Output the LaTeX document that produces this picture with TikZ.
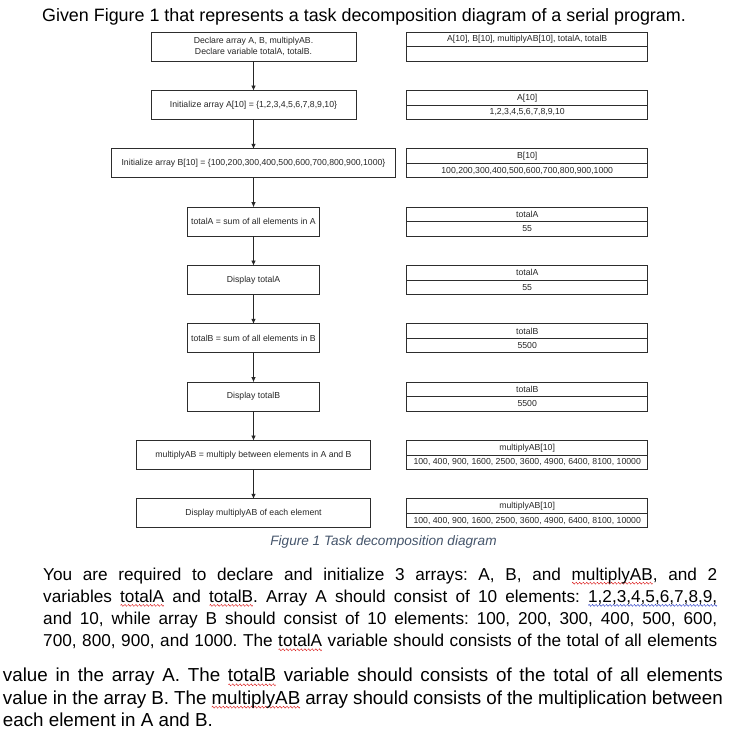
\documentclass[tikz,border=0pt]{standalone}
\usepackage{fontspec}
\setmainfont{Liberation Sans}
\usepackage{tikz}
\usetikzlibrary{positioning,arrows.meta}
\definecolor{capblue}{RGB}{68,84,106}
\definecolor{boxline}{RGB}{45,45,45}
\definecolor{wavered}{RGB}{220,30,30}
\definecolor{waveblue}{RGB}{40,60,200}
\frenchspacing

% spell-check squiggles under some words
\newsavebox\sqbox
\newcommand\wavebit[1]{\tikz[x=1pt, y=1pt, baseline=0pt]
    \draw[#1, line width=0.45pt] (0,0) -- (0.75,1) -- (2.25,-1) -- (3,0);}
\newcommand\squig[2]{\sbox\sqbox{#2}%
    \rlap{\raisebox{-3pt}{\hbox to \wd\sqbox{\xleaders\hbox{\wavebit{#1}}\hfill}}}%
    \usebox\sqbox}
\newcommand\redsq[1]{\squig{wavered}{#1}}
\newcommand\bluesq[1]{\squig{waveblue}{#1}}

\begin{document}
\begin{tikzpicture}[x=1pt, y=-1pt,
        proc/.style={rectangle, draw=boxline, line width=0.8pt,
                     minimum height=29pt, inner sep=0pt, outer sep=0pt,
                     align=center, text=black!85,
                     font=\fontsize{8.7}{11}\selectfont},
        cell/.style={rectangle, draw=boxline, line width=0.8pt,
                     minimum width=241pt, minimum height=14.5pt,
                     inner sep=0pt, outer sep=0pt, text=black!85,
                     font=\fontsize{8.7}{11}\selectfont},
        arrow/.style={-{Latex[length=5pt, width=4.5pt]}, line width=0.7pt,
                      draw=black!85},
        para/.style={anchor=north west, inner sep=0pt, align=justify},
        node distance=29.33pt]

        \useasboundingbox (0,0) rectangle (739,744);
        \coordinate (rcol) at (527.2,0);

        % question heading
        \node[font=\fontsize{17.9}{20}\selectfont] (title) at (364,17)
            {Given Figure 1 that represents a task decomposition diagram of a serial program.};

        % serial steps (left column)
        \node[proc, minimum width=205pt] (decl) at (253.5,46.7)
            {Declare array A, B, multiplyAB.\\Declare variable totalA, totalB.};
        \node[proc, minimum width=205pt, below=of decl] (initA)
            {Initialize array A[10] = \{1,2,3,4,5,6,7,8,9,10\}};
        \node[proc, minimum width=284pt, below=of initA] (initB)
            {Initialize array B[10] = \{100,200,300,400,500,600,700,800,900,1000\}};
        \node[proc, minimum width=132pt, below=of initB] (sumA)
            {totalA = sum of all elements in A};
        \node[proc, minimum width=132pt, below=of sumA] (showA)
            {Display totalA};
        \node[proc, minimum width=132pt, below=of showA] (sumB)
            {totalB = sum of all elements in B};
        \node[proc, minimum width=132pt, below=of sumB] (showB)
            {Display totalB};
        \node[proc, minimum width=234pt, below=of showB] (mult)
            {multiplyAB = multiply between elements in A and B};
        \node[proc, minimum width=234pt, below=of mult] (showM)
            {Display multiplyAB of each element};

        % arrows between steps
        \draw[arrow] (decl.south) -- (initA.north);
        \draw[arrow] (initA.south) -- (initB.north);
        \draw[arrow] (initB.south) -- (sumA.north);
        \draw[arrow] (sumA.south) -- (showA.north);
        \draw[arrow] (showA.south) -- (sumB.north);
        \draw[arrow] (sumB.south) -- (showB.north);
        \draw[arrow] (showB.south) -- (mult.north);
        \draw[arrow] (mult.south) -- (showM.north);

        % data tables (right column)
        \node[cell, anchor=north] (declH) at (decl.north -| rcol)
            {A[10], B[10], multiplyAB[10], totalA, totalB};
        \node[cell, below=0pt of declH] (declV) {};

        \node[cell, anchor=north] (initAH) at (initA.north -| rcol) {A[10]};
        \node[cell, below=0pt of initAH] (initAV) {1,2,3,4,5,6,7,8,9,10};

        \node[cell, anchor=north] (initBH) at (initB.north -| rcol) {B[10]};
        \node[cell, below=0pt of initBH] (initBV)
            {100,200,300,400,500,600,700,800,900,1000};

        \node[cell, anchor=north] (sumAH) at (sumA.north -| rcol) {totalA};
        \node[cell, below=0pt of sumAH] (sumAV) {55};

        \node[cell, anchor=north] (showAH) at (showA.north -| rcol) {totalA};
        \node[cell, below=0pt of showAH] (showAV) {55};

        \node[cell, anchor=north] (sumBH) at (sumB.north -| rcol) {totalB};
        \node[cell, below=0pt of sumBH] (sumBV) {5500};

        \node[cell, anchor=north] (showBH) at (showB.north -| rcol) {totalB};
        \node[cell, below=0pt of showBH] (showBV) {5500};

        \node[cell, anchor=north] (multH) at (mult.north -| rcol) {multiplyAB[10]};
        \node[cell, below=0pt of multH] (multV)
            {100, 400, 900, 1600, 2500, 3600, 4900, 6400, 8100, 10000};

        \node[cell, anchor=north] (showMH) at (showM.north -| rcol) {multiplyAB[10]};
        \node[cell, below=0pt of showMH] (showMV)
            {100, 400, 900, 1600, 2500, 3600, 4900, 6400, 8100, 10000};

        % caption
        \node[font=\fontsize{13.6}{15}\selectfont\itshape, text=capblue] (cap)
            at (383.5,542) {Figure 1 Task decomposition diagram};

        % question text
        \node[para, text width=674pt, font=\fontsize{17.2}{22.2}\selectfont]
            (textA) at (43,567.5)
            {You are required to declare and initialize 3 arrays: A, B, and
             \redsq{multiplyAB}, and 2\linebreak
             variables \redsq{totalA} and \redsq{totalB}. Array A should consist of
             10 elements: \bluesq{1,2,3,4,5,6,7,8,9,}\linebreak
             and 10, while array B should consist of 10 elements: 100, 200, 300,
             400, 500, 600,\linebreak
             700, 800, 900, and 1000. The \redsq{totalA} variable should consists
             of the total of all elements\linebreak};
        \node[para, text width=720pt, font=\fontsize{18.8}{22.3}\selectfont]
            (textB) at (2.7,668)
            {value in the array A. The \redsq{totalB} variable should consists of
             the total of all elements\linebreak
             value in the array B. The \redsq{multiplyAB} array should consists of
             the multiplication between\linebreak
             each element in A and B.};

    \end{tikzpicture}
\end{document}
